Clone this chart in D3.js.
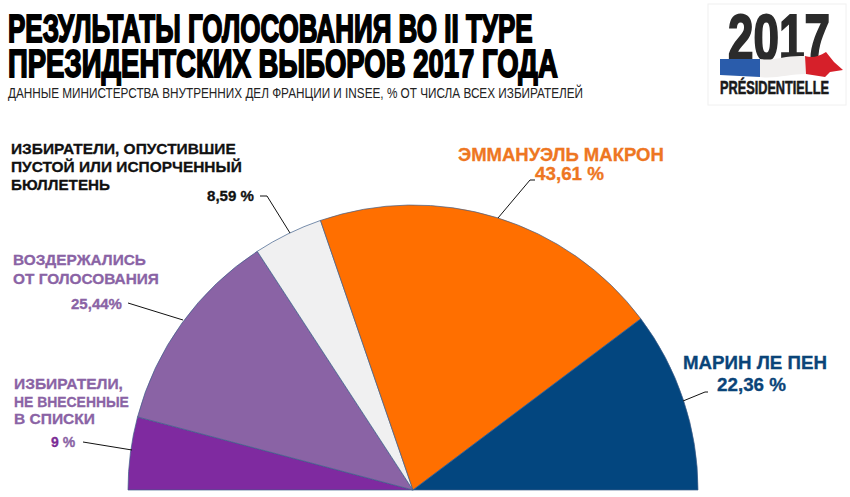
<!DOCTYPE html>
<html>
<head>
<meta charset="utf-8">
<script src="https://cdn.jsdelivr.net/npm/d3@7"></script>
<style>
  html, body { margin: 0; padding: 0; background: #fff; }
  svg { display: block; }
  text { font-family: "Liberation Sans", Arial, sans-serif; }
</style>
</head>
<body>
<div id="chart"></div>
<script>
// Slices run left to right along the half circle
const categories = ["Не внесенные в списки", "Воздержались", "Пустой или испорченный", "Макрон", "Ле Пен"];
const values = [9, 25.44, 8.59, 43.61, 22.36];
const sliceColors = ["#7f2aa0", "#8a63a5", "#f0f0f1", "#ff6f00", "#03467f"];

const titleLines = ["РЕЗУЛЬТАТЫ ГОЛОСОВАНИЯ ВО II ТУРЕ", "ПРЕЗИДЕНТСКИХ ВЫБОРОВ 2017 ГОДА"];
const subtitle = "ДАННЫЕ МИНИСТЕРСТВА ВНУТРЕННИХ ДЕЛ ФРАНЦИИ И INSEE, % ОТ ЧИСЛА ВСЕХ ИЗБИРАТЕЛЕЙ";

const width = 850, height = 497;
const centerX = 413, centerY = 490, radius = 285;

const svg = d3.select("#chart")
  .append("svg")
    .attr("width", width)
    .attr("height", height)
    .attr("viewBox", [0, 0, width, height]);

/* Half pie */
const color = d3.scaleOrdinal().domain(categories).range(sliceColors);

const pie = d3.pie()
  .sort(null)
  .value(d => d.value)
  .startAngle(-Math.PI / 2)
  .endAngle(Math.PI / 2);

const arc = d3.arc().innerRadius(0).outerRadius(radius);

svg.append("g")
  .attr("class", "slices")
  .attr("transform", `translate(${centerX},${centerY})`)
  .selectAll("path")
  .data(pie(categories.map((c, i) => ({category: c, value: values[i]}))))
  .join("path")
    .attr("d", arc)
    .attr("fill", d => color(d.data.category))
    .attr("stroke", "#3f5f8a")
    .attr("stroke-width", 0.7);

/* All text goes through here. Each string is scaled sideways to the measured width */
const addText = (parent, str, x, y, size, fill, opts = {}) => {
  const t = parent.append("text")
    .attr("font-size", size)
    .attr("font-weight", opts.weight || "bold")
    .attr("fill", fill)
    .text(str);
  if (opts.stroke) t.attr("stroke", fill).attr("stroke-width", opts.stroke);
  const sx = opts.length ? opts.length / t.node().getComputedTextLength() : 1;
  t.attr("transform", `translate(${x},${y}) scale(${sx},1)`);
  return t;
};

addText(svg, titleLines[0], 8, 42, 39, "#000", {length: 525, stroke: 1.8});
addText(svg, titleLines[1], 8, 77, 39, "#000", {length: 550, stroke: 1.8});
addText(svg, subtitle, 8, 98, 14.5, "#222", {weight: "normal", length: 576});

/* Labels */
const black = "#111", purple = "#8a63a5", orange = "#ee7622", blue = "#0a4478";
const labelSize = 15.5, labelStroke = 0.3;

addText(svg, "ИЗБИРАТЕЛИ, ОПУСТИВШИЕ", 11, 154, labelSize, black, {length: 225, stroke: labelStroke});
addText(svg, "ПУСТОЙ ИЛИ ИСПОРЧЕННЫЙ", 11, 172, labelSize, black, {length: 231, stroke: labelStroke});
addText(svg, "БЮЛЛЕТЕНЬ", 11, 190, labelSize, black, {length: 99, stroke: labelStroke});
addText(svg, "8,59 %", 207, 201, 14, black, {length: 47, stroke: labelStroke});

addText(svg, "ВОЗДЕРЖАЛИСЬ", 13, 265, labelSize, purple, {length: 133, stroke: labelStroke});
addText(svg, "ОТ ГОЛОСОВАНИЯ", 13, 284, labelSize, purple, {length: 146, stroke: labelStroke});
addText(svg, "25,44%", 71, 309, 14, purple, {length: 51, stroke: labelStroke});

addText(svg, "ИЗБИРАТЕЛИ,", 14, 389, labelSize, purple, {length: 109, stroke: labelStroke});
addText(svg, "НЕ ВНЕСЕННЫЕ", 14, 407, labelSize, purple, {length: 115, stroke: labelStroke});
addText(svg, "В СПИСКИ", 14, 424, labelSize, purple, {length: 81, stroke: labelStroke});
const nine = addText(svg, "9", 51, 447, 14, "#7b2d96", {stroke: labelStroke});
nine.append("tspan").attr("dx", 4).attr("fill", purple).attr("stroke", purple).text("%");

addText(svg, "ЭММАНУЭЛЬ МАКРОН", 458, 161, 17.5, orange, {length: 206, stroke: labelStroke});
addText(svg, "43,61 %", 535, 180, 17.5, orange, {length: 69, stroke: labelStroke});

addText(svg, "МАРИН ЛЕ ПЕН", 683, 369, 17.5, blue, {length: 144, stroke: labelStroke});
addText(svg, "22,36 %", 717, 391, 17.5, blue, {length: 69, stroke: labelStroke});

/* Leader lines */
const leader = d3.line();
const leaders = [
  [[535, 180], [530, 180], [498, 218]],
  [[708, 392], [705, 392], [683, 401]],
  [[260, 196], [267, 196], [290, 233]],
  [[128, 303], [183, 320]],
  [[83, 442], [132, 450]]
];
svg.append("g")
  .selectAll("path")
  .data(leaders)
  .join("path")
    .attr("d", leader)
    .attr("fill", "none")
    .attr("stroke", "#111")
    .attr("stroke-width", 1);

/* 2017 logo */
const logo = svg.append("g").attr("class", "logo");
logo.append("rect")
  .attr("x", 708).attr("y", 4).attr("width", 138).attr("height", 101)
  .attr("fill", "#fff").attr("stroke", "#f0f0f0");
addText(logo, "2017", 728, 60, 64, "#2b2b2b", {length: 102, stroke: 2});
logo.append("path").attr("d", "M720,59 L760,59 L760,77 L720,75 Z").attr("fill", "#2a5cab");
logo.append("path").attr("d", "M760,59 C775,61 785,55 805,56 L806,74 C790,74 775,79 760,77 Z").attr("fill", "#f1efee");
logo.append("path").attr("d", "M805,56 C812,58 818,57 826,52 L834,62 L843,70 L830,72 L825,77 L806,74 Z").attr("fill", "#d6202a");
addText(logo, "PRÉSIDENTIELLE", 720, 94, 18, "#1a1a1a", {length: 109, stroke: 0.6});
</script>
</body>
</html>
